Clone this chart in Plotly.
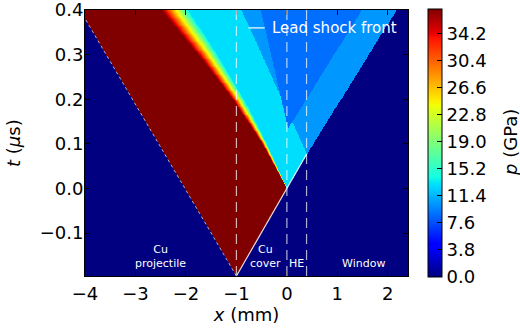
import numpy as np
import plotly.graph_objects as go

# ---------------- data ----------------
x_range = [-4.0, 2.4]          # mm
t_range = [-0.196, 0.4001]     # µs
x_ticks = [-4, -3, -2, -1, 0, 1, 2]
t_ticks = [-0.1, 0.0, 0.1, 0.2, 0.3, 0.4]
cbar_ticks = [0.0, 3.8, 7.6, 11.4, 15.2, 19.0, 22.8, 26.6, 30.4, 34.2]
p_min, p_max = 0.0, 37.6       # GPa colour range

# material interfaces (mm)
interfaces_x = [-1.0, 0.0, 0.39]

# lead shock front path
shock_x = [-1.0, 0.0, 0.39]
shock_t = [-0.196, 0.0, 0.077]

# release fan from the cover/HE interface: head and tail paths (t in µs, x in mm)
fan_head_t = [0.0, 0.1, 0.2, 0.3, 0.4]
fan_head_x = [0.0, -0.5, -1.1, -1.8, -2.55]
fan_tail_t = [0.0, 0.1, 0.2, 0.3, 0.4]
fan_tail_x = [0.0, -0.4, -0.85, -1.38, -1.95]

# wave speeds (mm/µs)
speed_projectile_shock = 5.2   # shock running back into the projectile
speed_window_shock = 5.5       # transmitted shock in the window
refl_head_speed = 4.0          # release reflected from HE/window interface
apex_point = [0.02, 0.135]     # (x, t) of the upper V
apex_left_speed = 2.05
apex_right_speed = 5.5

# pressure levels (GPa)
p_cu_shocked = 40.0
p_he_shocked = 12.9
p_released = 10.3
p_v_region = 8.8

# region labels
label_text = ["Cu<br>projectile", "Cu<br>cover", "HE", "Window"]
label_x = [-2.5, -0.42, 0.19, 1.52]
label_t = [-0.153, -0.153, -0.168, -0.168]

# ---------------- build the pressure field ----------------
xg = np.linspace(x_range[0], x_range[1], 641)
tg = np.linspace(t_range[0], t_range[1], 300)
X, T = np.meshgrid(xg, tg)

t0 = shock_t[0]
x0 = shock_x[0]
t2 = shock_t[-1]
x2 = shock_x[-1]

x_left = x0 - speed_projectile_shock * (T - t0)
x_right = np.where(T <= t2, np.interp(T, shock_t, shock_x),
                   x2 + speed_window_shock * (T - t2))
behind = (X > x_left) & (X < x_right)

P = np.zeros_like(X)
P[behind] = p_cu_shocked

# release fan
pos = T > 0
xh = np.interp(T, fan_head_t, fan_head_x)
xt = np.interp(T, fan_tail_t, fan_tail_x)
width = np.where(pos, xt - xh, 1.0)
f = np.clip((xt - X) / width, 0, 1)
fan_val = p_he_shocked + (p_cu_shocked - p_he_shocked) * f
m = behind & pos
P[m] = fan_val[m]

# reflected release from HE/window
x_head = x2 - refl_head_speed * (T - t2)
m2 = behind & (T > t2) & (X > x_head)
P[m2] = p_released

# upper V
ax_, at_ = apex_point
m3 = behind & (T > at_) & (X > ax_ - apex_left_speed * (T - at_)) & \
    (X < ax_ + apex_right_speed * (T - at_))
P[m3] = p_v_region

# ---------------- jet colour scale ----------------
red = [(0, 0), (0.35, 0), (0.66, 1), (0.89, 1), (1, 0.5)]
green = [(0, 0), (0.125, 0), (0.375, 1), (0.64, 1), (0.91, 0), (1, 0)]
blue = [(0, 0.5), (0.11, 1), (0.34, 1), (0.65, 0), (1, 0)]
stops = sorted(set([a for a, _ in red + green + blue]))
def ch(seg, v):
    return np.interp(v, [a for a, _ in seg], [b for _, b in seg])
jet = [[v, "rgb(%d,%d,%d)" % (round(255 * ch(red, v)), round(255 * ch(green, v)),
                               round(255 * ch(blue, v)))] for v in stops]

fig = go.Figure()
fig.add_trace(go.Heatmap(
    x=xg, y=tg, z=np.round(P, 2), colorscale=jet, zmin=p_min, zmax=p_max,
    hoverinfo="skip",
    colorbar=dict(
        thickness=14, thicknessmode="pixels", len=268, lenmode="pixels",
        x=1.062, xanchor="left", xpad=0, ypad=0, y=0.5, yanchor="middle",
        outlinewidth=1, outlinecolor="black",
        ticks="inside", ticklen=5, tickcolor="black",
        tickvals=cbar_ticks, ticktext=["%.1f" % v for v in cbar_ticks],
        tickfont=dict(size=18, color="black"),
    ),
))

# left shock (dotted)
tl = [t0, t0 + (x0 - x_range[0]) / speed_projectile_shock]
xl = [x0, x_range[0]]
fig.add_trace(go.Scatter(x=xl, y=tl, mode="lines", showlegend=False,
                         line=dict(color="rgba(190,190,200,0.9)", width=1, dash="dot"),
                         hoverinfo="skip"))
# lead shock front
fig.add_trace(go.Scatter(x=shock_x, y=shock_t, mode="lines", showlegend=False,
                         line=dict(color="rgba(255,255,255,0.85)", width=1.2),
                         hoverinfo="skip"))

for xv in interfaces_x:
    fig.add_shape(type="line", x0=xv, x1=xv, y0=0, y1=1, xref="x", yref="paper",
                  line=dict(color="rgba(255,255,255,0.7)", width=1.2, dash="10px,6px"))

# legend entry
fig.add_shape(type="line", x0=-0.76, x1=-0.44, y0=0.36, y1=0.36, xref="x", yref="y",
              line=dict(color="white", width=1.2))
fig.add_annotation(x=-0.33, y=0.36, xref="x", yref="y", text="Lead shock front",
                   showarrow=False, xanchor="left", yanchor="middle",
                   font=dict(size=15, color="white"))

for txt, lx, lt in zip(label_text, label_x, label_t):
    fig.add_annotation(x=lx, y=lt, xref="x", yref="y", text=txt, showarrow=False,
                       font=dict(size=11, color="white"), align="center")

# axis / colourbar titles
fig.add_annotation(x=(13 - 85) / 323, y=0.5, xref="paper", yref="paper",
                   text="<i>t</i> (<i>μ</i>s)", textangle=-90, showarrow=False,
                   xanchor="center", yanchor="middle", font=dict(size=18))
fig.add_annotation(x=(510 - 85) / 323, y=0.5, xref="paper", yref="paper",
                   text="<i>p</i> (GPa)", textangle=-90, showarrow=False,
                   xanchor="center", yanchor="middle", font=dict(size=18))

axis_common = dict(showline=True, linecolor="black", linewidth=1, mirror="ticks",
                   ticks="inside", ticklen=5, tickcolor="black", showgrid=False,
                   zeroline=False, tickfont=dict(size=18, color="black"),
                   ticklabeloverflow="allow")
fig.update_xaxes(range=x_range, tickvals=x_ticks,
                 ticktext=[("−%d" % -v) if v < 0 else "%d" % v for v in x_ticks],
                 ticklabelstandoff=1,
                 title=dict(text="<i>x</i> (mm)", font=dict(size=18), standoff=3),
                 **axis_common)
fig.update_yaxes(range=t_range, tickvals=t_ticks,
                 ticktext=[("−%.1f" % -v) if v < 0 else "%.1f" % v for v in t_ticks],
                 ticklabelstandoff=-3,
                 **axis_common)

fig.update_layout(
    width=520, height=330,
    margin=dict(l=85, r=112, t=10, b=54, autoexpand=False),
    paper_bgcolor="white", plot_bgcolor="white",
    font=dict(family="DejaVu Sans", size=18, color="black"),
    showlegend=False,
)
fig.write_html("out.html", config={"displayModeBar": False},
               post_script="document.body.style.margin='0px';")
